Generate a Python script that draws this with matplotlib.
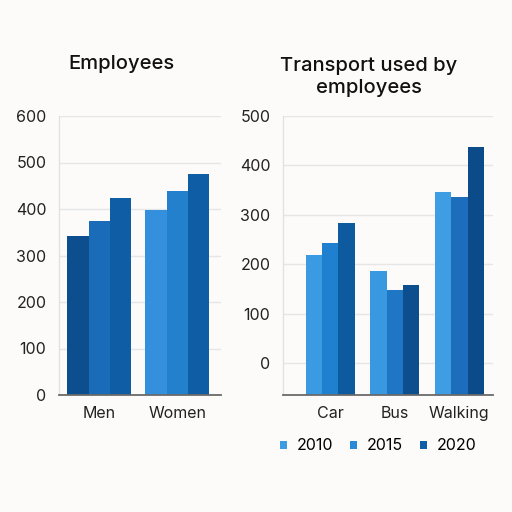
import matplotlib
matplotlib.use("Agg")
import matplotlib.pyplot as plt
from matplotlib.patches import Patch
import numpy as np

plt.rcParams['font.family'] = ['Inter', 'DejaVu Sans']

years = ["2010", "2015", "2020"]
emp_categories = ["Men", "Women"]
emp_men = [343, 375, 423]
emp_women = [398, 438, 476]
trans_categories = ["Car", "Bus", "Walking"]
trans_car = [219, 244, 283]
trans_bus = [187, 148, 158]
trans_walking = [347, 336, 437]

emp_colors = [["#0d4f8e", "#1a6cb8", "#0f5ea5"],
              ["#3490dc", "#2380cc", "#0f5ea5"]]
trans_colors = [["#3b9be2", "#1f80cf", "#0d5a9e"],
                ["#3898e0", "#1f76c4", "#0d4f8e"],
                ["#3f9de3", "#1c6dbb", "#0b4b8a"]]
legend_colors = ["#3d9be0", "#2a8ad8", "#0e5ea5"]

bg = "#fcfbfa"
fig = plt.figure(figsize=(5.12, 5.12), dpi=100, facecolor=bg)

def style(ax):
    ax.set_facecolor(bg)
    for s in ["top", "right"]:
        ax.spines[s].set_visible(False)
    ax.spines["left"].set_color("#e2e2e2")
    ax.spines["left"].set_linewidth(1)
    ax.spines["bottom"].set_color("#6a6a6a")
    ax.spines["bottom"].set_linewidth(1.3)
    ax.grid(axis="y", color="#e6e6e6", linewidth=1)
    ax.set_axisbelow(True)
    ax.tick_params(axis="both", length=0, labelsize=11.5, colors="#222222")
    ax.tick_params(axis="y", pad=9)
    ax.tick_params(axis="x", pad=8)

# Left chart
ax1 = fig.add_axes([59/512, 117/512, 162/512, 279/512])
style(ax1)
w1 = 0.273
for i, vals in enumerate([emp_men, emp_women]):
    for j, v in enumerate(vals):
        ax1.bar(i + (j - 1) * w1, v, width=w1, color=emp_colors[i][j], edgecolor="none")
ax1.set_ylim(0, 600)
ax1.set_yticks(np.arange(0, 601, 100))
ax1.set_xlim(-0.517, 1.56)
ax1.set_xticks(range(len(emp_categories)))
ax1.set_xticklabels(emp_categories)

# Right chart
ax2 = fig.add_axes([283/512, 117/512, 210/512, 279/512])
style(ax2)
ymin = -64
w2 = 0.253
for i, vals in enumerate([trans_car, trans_bus, trans_walking]):
    for j, v in enumerate(vals):
        ax2.bar(i + (j - 1) * w2, v - ymin, bottom=ymin, width=w2,
                color=trans_colors[i][j], edgecolor="none")
ax2.set_ylim(ymin, 500)
ax2.set_yticks(np.arange(0, 501, 100))
ax2.set_xlim(-0.73, 2.52)
ax2.set_xticks(range(len(trans_categories)))
ax2.set_xticklabels(trans_categories)

fig.text(121/512, 1 - 64/512, "Employees", ha="center", va="center",
         fontsize=14.5, fontweight="medium", color="#111111")
fig.text(369/512, 1 - 77/512, "Transport used by\nemployees", ha="center", va="center",
         fontsize=14.5, fontweight="medium", color="#111111", linespacing=1.25)

handles = [Patch(facecolor=c, edgecolor="none") for c in legend_colors]
fig.legend(handles, years, loc="center", bbox_to_anchor=(378/512, 1 - 446/512),
           ncol=3, frameon=False, fontsize=11.5, handlelength=0.45, handleheight=0.45,
           handletextpad=0.6, columnspacing=1.05)

fig.savefig("out.png", dpi=100, facecolor=bg)
